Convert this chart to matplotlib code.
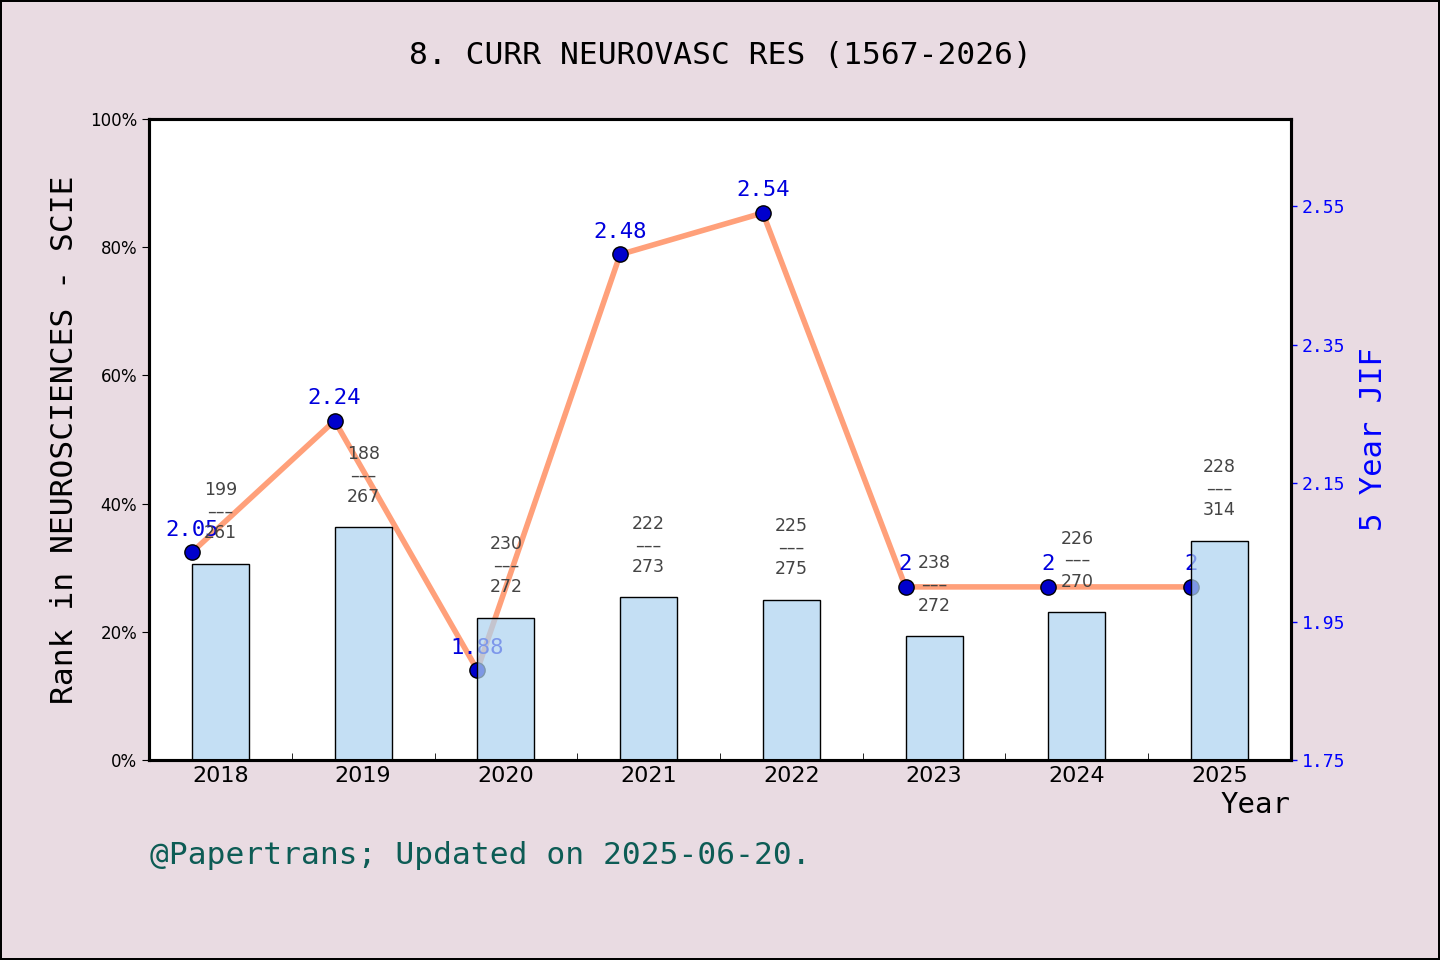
import matplotlib.pyplot as plt
import numpy as np
from matplotlib.colors import to_rgba

years = ['2018', '2019', '2020', '2021', '2022', '2023', '2024', '2025']
ranks = [199, 188, 230, 222, 225, 238, 226, 228]
totals = [261, 267, 272, 273, 275, 272, 270, 314]
bar_pct = [30.6, 36.3, 22.2, 25.4, 25.0, 19.3, 23.1, 34.2]
jif = [2.05, 2.24, 1.88, 2.48, 2.54, 2.0, 2.0, 2.0]
jif_labels = ['2.05', '2.24', '1.88', '2.48', '2.54', '2', '2', '2']

mono = 'DejaVu Sans Mono'
bg = '#e9dbe2'

fig = plt.figure(figsize=(14.4, 9.6), dpi=100, facecolor=bg,
                 edgecolor='black', linewidth=1.5)
ax = fig.add_axes([0.1035, 0.2083, 0.793, 0.6677])
ax2 = ax.twinx()
x = np.arange(len(years))

# line on the twin axes, drawn behind the bars
ax2.patch.set_visible(True)
ax2.set_facecolor('white')
ax2.plot(x - 0.2, jif, color='#ffa07a', lw=4, zorder=2)
ax2.plot(x - 0.2, jif, 'o', color='#0000cc', mec='black', mew=1,
         ms=11, zorder=3)
for xi, v, s in zip(x, jif, jif_labels):
    ax2.annotate(s, (xi - 0.2, v), xytext=(0, 9), textcoords='offset points',
                 ha='center', va='bottom', color='#0000dd', fontsize=16,
                 family=mono)
ax2.set_ylim(1.75, 2.6756)
ax2.set_yticks([1.75, 1.95, 2.15, 2.35, 2.55])
ax2.set_yticklabels(['1.75', '1.95', '2.15', '2.35', '2.55'], family=mono)
ax2.tick_params(axis='y', colors='blue', labelsize=13, length=4, width=1)
ax2.set_ylabel('5 Year JIF', color='blue', fontsize=22, family=mono,
               labelpad=10)

# bars on top, semi transparent
ax.set_zorder(ax2.get_zorder() + 1)
ax.patch.set_visible(False)
ax.bar(x - 0.2, bar_pct, width=0.4, align='edge',
       color=to_rgba('#aed3f0', 0.72), edgecolor='black', linewidth=1)
for xi, h, r, t in zip(x, bar_pct, ranks, totals):
    ax.text(xi, h + 8.1, f'{r}\n–––\n{t}', ha='center', va='center',
            fontsize=12.5, color='#444444', linespacing=1.25)

ax.set_xlim(-0.5, len(years) - 0.5)
ax.set_ylim(0, 100)
ax.set_yticks(range(0, 101, 20))
ax.set_yticklabels([f'{v}%' for v in range(0, 101, 20)])
ax.tick_params(axis='y', labelsize=12, length=5)
ax.set_xticks(x)
ax.set_xticklabels(years, fontsize=16)
ax.tick_params(axis='x', length=0, pad=4)
ax.set_xticks(x[:-1] + 0.5, minor=True)
ax.tick_params(axis='x', which='minor', direction='in', length=5)
ax.set_ylabel('Rank in NEUROSCIENCES - SCIE', fontsize=22.5, family=mono,
              labelpad=8)
ax.set_xlabel('Year', fontsize=21, family=mono, loc='right', labelpad=4)

for a in (ax, ax2):
    for sp in a.spines.values():
        sp.set_linewidth(2.2)

fig.text(0.5, 0.942, '8. CURR NEUROVASC RES (1567-2026)', ha='center',
         va='center', fontsize=22.5, family=mono)
fig.text(0.104, 0.109, '@Papertrans; Updated on 2025-06-20.', ha='left',
         va='center', fontsize=22.5, family=mono, color='#0d5c55')

fig.savefig('out.png', dpi=100, facecolor=bg, edgecolor='black')
